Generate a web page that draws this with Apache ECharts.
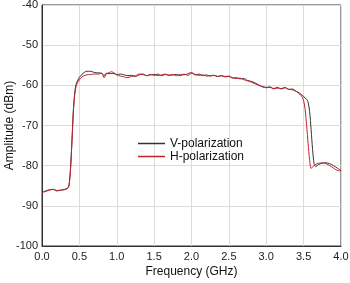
<!DOCTYPE html>
<html><head><meta charset="utf-8">
<script src="https://cdn.jsdelivr.net/npm/echarts@6/dist/echarts.min.js"></script>
<style>html,body{margin:0;padding:0;background:#fff}#c{width:350px;height:283px}</style>
</head><body><div id="c"></div>
<script>
var xTicks = ['0.0','0.5','1.0','1.5','2.0','2.5','3.0','3.5','4.0'];
var yTicks = [-40,-50,-60,-70,-80,-90,-100];
var seriesNames = ['V-polarization','H-polarization'];

var freqV = [0.00,0.05,0.10,0.15,0.20,0.25,0.30,0.34,0.36,0.38,0.40,0.42,0.44,0.46,0.50,0.55,0.60,0.65,0.70,0.75,0.80,0.83,0.86,0.90,0.95,1.00,1.05,1.10,1.15,1.20,1.25,1.30,1.35,1.40,1.45,1.50,1.55,1.60,1.65,1.70,1.75,1.80,1.85,1.90,1.95,2.00,2.05,2.10,2.15,2.20,2.25,2.30,2.35,2.40,2.45,2.50,2.55,2.60,2.65,2.70,2.75,2.80,2.85,2.90,2.95,3.00,3.05,3.10,3.15,3.20,3.25,3.30,3.35,3.40,3.45,3.50,3.54,3.56,3.58,3.60,3.62,3.64,3.66,3.70,3.75,3.80,3.85,3.90,3.95,4.00];
var ampV  = [-86.6,-86.3,-86.0,-85.9,-86.2,-86.1,-85.9,-85.6,-85.0,-81,-74,-66,-61.5,-59.5,-58.0,-57.0,-56.5,-56.5,-56.8,-56.9,-57.0,-57.6,-57.0,-57.1,-57.0,-57.3,-57.2,-57.4,-57.6,-57.5,-57.8,-57.4,-57.2,-57.6,-57.3,-57.5,-57.2,-57.6,-57.3,-57.5,-57.4,-57.3,-57.6,-57.2,-57.5,-57.0,-57.4,-57.2,-57.6,-57.4,-57.7,-57.5,-57.8,-57.6,-57.9,-57.8,-58.2,-58.1,-58.4,-58.3,-58.8,-59.0,-59.4,-59.9,-60.3,-60.5,-60.4,-60.8,-60.5,-60.9,-60.6,-61.0,-61.1,-61.5,-62.0,-62.8,-63.5,-64.2,-66.5,-71,-76,-79.5,-80.2,-79.7,-79.4,-79.3,-79.5,-80.0,-80.6,-81.2];

var freqH = [0.00,0.05,0.10,0.15,0.20,0.25,0.30,0.34,0.36,0.38,0.40,0.42,0.44,0.46,0.50,0.55,0.60,0.65,0.70,0.75,0.80,0.83,0.86,0.90,0.93,0.97,1.00,1.05,1.10,1.13,1.20,1.25,1.30,1.35,1.40,1.45,1.50,1.55,1.60,1.65,1.70,1.75,1.80,1.85,1.90,1.95,2.00,2.05,2.10,2.15,2.20,2.25,2.30,2.35,2.40,2.45,2.50,2.55,2.60,2.65,2.70,2.75,2.80,2.85,2.90,2.95,3.00,3.05,3.10,3.15,3.20,3.25,3.30,3.35,3.40,3.45,3.48,3.50,3.52,3.54,3.56,3.58,3.60,3.62,3.66,3.70,3.75,3.80,3.85,3.90,3.95,4.00];
var ampH  = [-86.7,-86.4,-86.1,-85.9,-86.3,-86.1,-86.0,-85.7,-85.1,-81.5,-74.5,-66.5,-62,-60,-58.6,-57.7,-57.4,-57.3,-57.2,-57.2,-57.0,-58.1,-57.2,-56.8,-56.6,-57.0,-57.4,-57.7,-57.9,-58.1,-57.8,-57.6,-57.2,-57.3,-57.6,-57.4,-57.3,-57.6,-57.4,-57.2,-57.5,-57.3,-57.6,-57.3,-57.4,-57.1,-56.8,-57.3,-57.5,-57.4,-57.7,-57.6,-57.5,-57.8,-57.6,-57.8,-57.7,-58.1,-58.3,-58.2,-58.6,-58.9,-59.2,-59.6,-60.0,-60.4,-60.6,-60.5,-60.9,-60.7,-60.8,-60.5,-61.0,-60.9,-61.5,-62.2,-62.9,-63.8,-66,-70,-74.5,-78.5,-80.7,-80.3,-79.7,-79.4,-79.3,-79.5,-80.0,-80.6,-81.2,-81.3];

function pairs(xs, ys){ return xs.map(function(x,i){ return [x, ys[i]]; }); }

var chart = echarts.init(document.getElementById('c'), null, {renderer:'canvas'});
chart.setOption({
  animation:false,
  grid:{left:42, right:9, top:5, bottom:37, show:true, borderColor:'#333', borderWidth:1,
        containLabel:false, outerBoundsMode:'none'},
  legend:{
    left:133, top:132, orient:'vertical', itemWidth:27, itemHeight:1.5, itemGap:0,
    icon:'rect',
    textStyle:{fontFamily:'Liberation Sans, Arial', fontSize:12, color:'#111', lineHeight:13},
    data:seriesNames
  },
  xAxis:{
    type:'value', min:0, max:4, interval:0.5,
    name:'Frequency (GHz)', nameLocation:'middle', nameGap:20, nameMoveOverlap:false,
    nameTextStyle:{fontFamily:'Liberation Sans, Arial', fontSize:12, color:'#111'},
    axisLine:{lineStyle:{color:'#333'}},
    axisTick:{show:false},
    axisLabel:{fontFamily:'Liberation Sans, Arial', fontSize:11, color:'#222', margin:5,
      formatter:function(v){ return v.toFixed(1); }},
    splitLine:{show:true, lineStyle:{color:'#dcdcdc'}}
  },
  yAxis:{
    type:'value', min:-100, max:-40, interval:10,
    name:'Amplitude (dBm)', nameLocation:'middle', nameGap:26, nameMoveOverlap:false,
    nameTextStyle:{fontFamily:'Liberation Sans, Arial', fontSize:12, color:'#111'},
    axisLine:{show:true, lineStyle:{color:'#333'}},
    axisTick:{show:false},
    axisLabel:{fontFamily:'Liberation Sans, Arial', fontSize:11, color:'#222', margin:4},
    splitLine:{show:true, lineStyle:{color:'#dcdcdc'}}
  },
  series:[
    {name:seriesNames[0], type:'line', symbol:'none', smooth:0.3, data:pairs(freqV, ampV),
     lineStyle:{color:'#333333', width:1}, itemStyle:{color:'#333333'}},
    {name:seriesNames[1], type:'line', symbol:'none', smooth:0.3, data:pairs(freqH, ampH),
     lineStyle:{color:'#c4202c', width:1}, itemStyle:{color:'#c4202c'}}
  ]
});
</script></body></html>
